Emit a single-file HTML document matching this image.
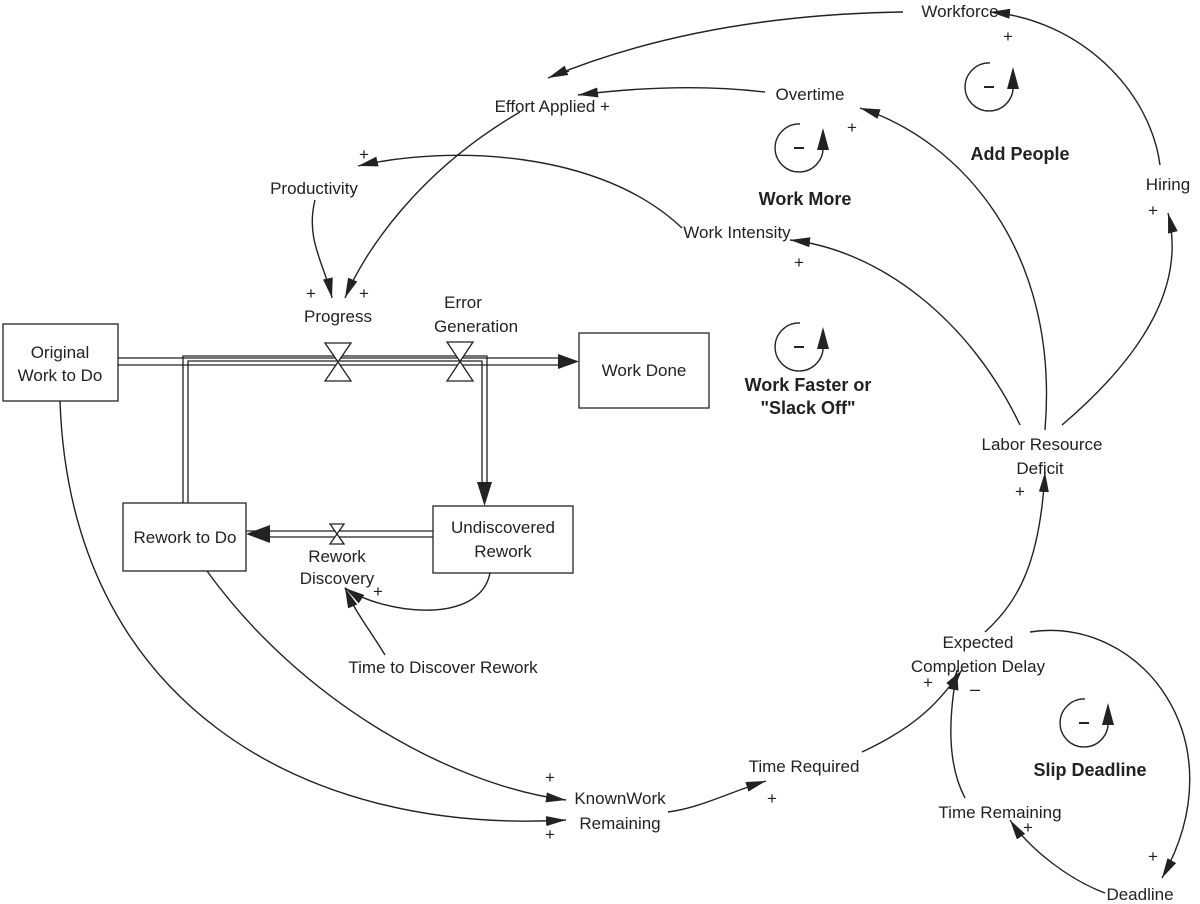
<!DOCTYPE html>
<html><head><meta charset="utf-8"><style>
html,body{margin:0;padding:0;background:#fff;}
svg{display:block}
text{font-family:"Liberation Sans",sans-serif;font-size:17px;fill:#222;}
.b{font-weight:bold;font-size:18px}
.s{font-size:15px}
.c{fill:none;stroke:#222;stroke-width:1.4}
</style></head><body>
<svg width="1200" height="904" viewBox="0 0 1200 904" xmlns="http://www.w3.org/2000/svg">
<defs>
<marker id="a" viewBox="0 0 20 10" refX="20" refY="5" markerWidth="20" markerHeight="10" markerUnits="userSpaceOnUse" orient="auto">
<path d="M0,0 L20,5 L0,10 z" fill="#222"/></marker>
<g id="loop"><path d="M0,-24 A24,24 0 1 0 23,-2" fill="none" stroke="#222" stroke-width="1.4"/><path d="M17,2 L23,-20 L29,2 z" fill="#222"/><line x1="-6" y1="0" x2="4" y2="0" stroke="#222" stroke-width="2"/></g>
</defs>
<!-- pipes -->
<g fill="none" stroke="#222" stroke-width="1.3">
<line x1="118" y1="358" x2="560" y2="358"/><line x1="118" y1="365" x2="560" y2="365"/>
<path d="M183,503 V356 H487 V490"/><path d="M188,503 V361 H482 V490"/>
<line x1="246" y1="531" x2="433" y2="531"/><line x1="265" y1="537" x2="433" y2="537"/>
</g>
<path d="M558,354 L579,361.5 L558,369 z" fill="#222"/>
<path d="M477,482 L484.5,506 L492,482 z" fill="#222"/>
<path d="M270,525 L246,534 L270,543 z" fill="#222"/>
<!-- valves -->
<g fill="#fff" stroke="#222" stroke-width="1.3">
<path d="M325,343 L351,343 L325,381 L351,381 z"/>
<path d="M447,342 L473,342 L447,381 L473,381 z"/>
<path d="M330,524 L344,524 L330,544 L344,544 z"/>
</g>
<!-- boxes -->
<g fill="#fff" stroke="#222" stroke-width="1.3">
<rect x="3" y="324" width="115" height="77"/>
<rect x="579" y="333" width="130" height="75"/>
<rect x="123" y="503" width="123" height="68"/>
<rect x="433" y="506" width="140" height="67"/>
</g>
<text x="60" y="358" text-anchor="middle">Original</text><text x="60" y="381" text-anchor="middle">Work to Do</text>
<text x="644" y="376" text-anchor="middle">Work Done</text>
<text x="185" y="543" text-anchor="middle">Rework to Do</text>
<text x="503" y="533" text-anchor="middle">Undiscovered</text><text x="503" y="557" text-anchor="middle">Rework</text>
<!-- connectors -->
<g class="c" marker-end="url(#a)">
<path d="M903,12 Q700,15 548,78"/>
<path d="M765,92 Q680,82 578,95"/>
<path d="M1160,165 C1150,90 1080,20 990,12"/>
<path d="M1062,425 C1150,350 1185,280 1168,213"/>
<path d="M1045,430 C1060,250 960,140 860,108"/>
<path d="M1020,425 C970,320 880,250 790,240"/>
<path d="M682,228 C600,150 450,145 358,166"/>
<path d="M315,200 C305,240 325,265 332,298"/>
<path d="M520,112 C420,170 365,250 345,298"/>
<path d="M490,573 C480,625 385,615 345,588"/>
<path d="M385,655 C370,630 355,612 345,588"/>
<path d="M60,401 C70,700 300,835 566,820"/>
<path d="M207,571 C300,700 450,785 566,800"/>
<path d="M668,812 C700,808 730,792 766,781"/>
<path d="M862,752 C920,725 940,700 962,670"/>
<path d="M985,632 C1020,600 1040,560 1045,472"/>
<path d="M1030,632 C1140,615 1240,740 1162,878"/>
<path d="M1105,893 C1070,880 1030,850 1010,820"/>
<path d="M965,798 C945,760 950,710 957,670"/>
</g>
<!-- labels -->
<text x="960" y="17" text-anchor="middle">Workforce</text>
<text x="545" y="112" text-anchor="middle">Effort Applied</text>
<text x="810" y="100" text-anchor="middle">Overtime</text>
<text x="314" y="194" text-anchor="middle">Productivity</text>
<text x="737" y="238" text-anchor="middle">Work Intensity</text>
<text x="1168" y="190" text-anchor="middle">Hiring</text>
<text x="338" y="322" text-anchor="middle">Progress</text>
<text x="463" y="308" text-anchor="middle">Error</text><text x="476" y="332" text-anchor="middle">Generation</text>
<text x="1042" y="450" text-anchor="middle">Labor Resource</text><text x="1040" y="474" text-anchor="middle">Deficit</text>
<text x="337" y="562" text-anchor="middle">Rework</text><text x="337" y="584" text-anchor="middle">Discovery</text>
<text x="443" y="673" text-anchor="middle">Time to Discover Rework</text>
<text x="978" y="648" text-anchor="middle">Expected</text><text x="978" y="672" text-anchor="middle">Completion Delay</text>
<text x="804" y="772" text-anchor="middle">Time Required</text>
<text x="620" y="804" text-anchor="middle">KnownWork</text><text x="620" y="829" text-anchor="middle">Remaining</text>
<text x="1000" y="818" text-anchor="middle">Time Remaining</text>
<text x="1140" y="900" text-anchor="middle">Deadline</text>
<text class="b" x="805" y="205" text-anchor="middle">Work More</text>
<text class="b" x="1020" y="160" text-anchor="middle">Add People</text>
<text class="b" x="808" y="391" text-anchor="middle">Work Faster or</text><text class="b" x="808" y="414" text-anchor="middle">"Slack Off"</text>
<text class="b" x="1090" y="776" text-anchor="middle">Slip Deadline</text>
<!-- polarity -->
<g class="s" text-anchor="middle">
<text x="565" y="77">+</text><text x="605" y="112">+</text><text x="1008" y="42">+</text>
<text x="852" y="133">+</text><text x="364" y="160">+</text><text x="799" y="268">+</text>
<text x="1153" y="216">+</text><text x="311" y="299">+</text><text x="364" y="299">+</text>
<text x="378" y="597">+</text><text x="1020" y="497">+</text><text x="928" y="688">+</text>
<text x="772" y="804">+</text><text x="550" y="783">+</text><text x="550" y="840">+</text>
<text x="1028" y="833">+</text><text x="1153" y="862">+</text>
<text x="975" y="695" style="font-size:18px">–</text>
</g>
<use href="#loop" x="800" y="148"/>
<use href="#loop" x="990" y="87"/>
<use href="#loop" x="800" y="347"/>
<use href="#loop" x="1085" y="723"/>
</svg>
</body></html>
